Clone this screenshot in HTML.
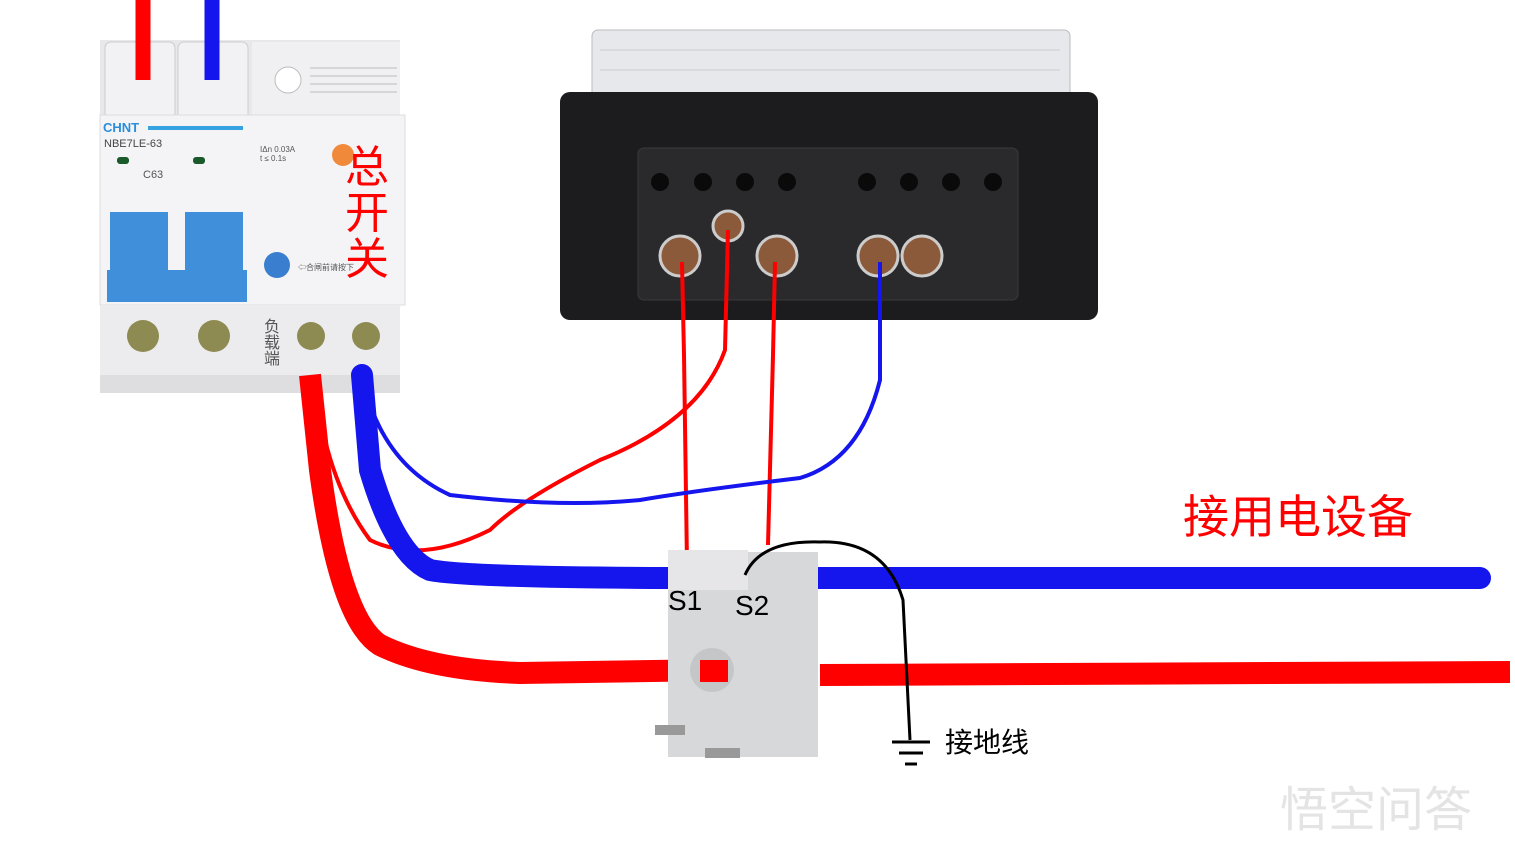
<!DOCTYPE html>
<html><head><meta charset="utf-8"><style>
body{margin:0;background:#fff;}
svg{display:block;}
text{font-family:"Liberation Sans","Noto Sans CJK SC",sans-serif;}
</style></head><body>
<svg width="1515" height="861" viewBox="0 0 1515 861" xmlns="http://www.w3.org/2000/svg">
<rect width="1515" height="861" fill="#fff"/>
<!-- breaker -->
<rect x="100" y="40" width="300" height="350" fill="#e8e8ea"/>
<rect x="105" y="42" width="70" height="80" rx="6" fill="#f2f2f4" stroke="#ccc"/>
<rect x="178" y="42" width="70" height="80" rx="6" fill="#f2f2f4" stroke="#ccc"/>
<rect x="252" y="42" width="148" height="75" fill="#f0f0f2"/>
<circle cx="288" cy="80" r="13" fill="#fff" stroke="#bbb"/>
<g stroke="#bbb"><line x1="310" y1="68" x2="397" y2="68"/><line x1="310" y1="76" x2="397" y2="76"/><line x1="310" y1="84" x2="397" y2="84"/><line x1="310" y1="92" x2="397" y2="92"/></g>
<rect x="100" y="115" width="305" height="190" fill="#f4f4f6" stroke="#ddd"/>
<text x="103" y="132" font-size="13" font-weight="bold" fill="#2a8fd8">CHNT</text>
<rect x="148" y="126" width="95" height="4" fill="#36a3e0"/>
<text x="104" y="147" font-size="11" fill="#444">NBE7LE-63</text>
<rect x="117" y="157" width="12" height="7" rx="3" fill="#1a5a2a"/>
<rect x="193" y="157" width="12" height="7" rx="3" fill="#1a5a2a"/>
<text x="143" y="178" font-size="11" fill="#555">C63</text>
<text x="260" y="152" font-size="8" fill="#555">IΔn 0.03A</text>
<text x="260" y="161" font-size="8" fill="#555">t ≤ 0.1s</text>
<circle cx="343" cy="155" r="11" fill="#f08a3a"/>
<rect x="110" y="212" width="58" height="70" fill="#3f8fdb"/>
<rect x="185" y="212" width="58" height="70" fill="#3f8fdb"/>
<rect x="107" y="270" width="140" height="32" fill="#3f8fdb"/>
<circle cx="277" cy="265" r="13" fill="#3a7ed0"/>
<text x="298" y="270" font-size="8" fill="#555">⇦合闸前请按下</text>
<rect x="100" y="305" width="300" height="70" fill="#ececee"/>
<circle cx="143" cy="336" r="16" fill="#8d8a52"/>
<circle cx="214" cy="336" r="16" fill="#8d8a52"/>
<circle cx="311" cy="336" r="14" fill="#8d8a52"/>
<circle cx="366" cy="336" r="14" fill="#8d8a52"/>
<text x="264" y="332" font-size="16" fill="#555">负</text>
<text x="264" y="348" font-size="16" fill="#555">载</text>
<text x="264" y="364" font-size="16" fill="#555">端</text>
<rect x="100" y="375" width="300" height="18" fill="#dedee0"/>
<!-- top wires -->
<line x1="143" y1="0" x2="143" y2="80" stroke="#f00" stroke-width="15"/>
<line x1="212" y1="0" x2="212" y2="80" stroke="#1515ee" stroke-width="15"/>
<text x="345" y="182" font-size="44" fill="#f00">总</text>
<text x="345" y="228" font-size="44" fill="#f00">开</text>
<text x="345" y="274" font-size="44" fill="#f00">关</text>
<!-- meter -->
<rect x="592" y="30" width="478" height="68" rx="6" fill="#e6e8ec" stroke="#bbb"/>
<g stroke="#ccc"><line x1="600" y1="50" x2="1060" y2="50"/><line x1="600" y1="70" x2="1060" y2="70"/></g>
<rect x="560" y="92" width="538" height="228" rx="10" fill="#1c1c1e"/>
<rect x="638" y="148" width="380" height="152" rx="6" fill="#2a2a2c" stroke="#3a3a3c"/>
<g fill="#0a0a0a">
<circle cx="660" cy="182" r="9"/><circle cx="703" cy="182" r="9"/><circle cx="745" cy="182" r="9"/><circle cx="787" cy="182" r="9"/>
<circle cx="867" cy="182" r="9"/><circle cx="909" cy="182" r="9"/><circle cx="951" cy="182" r="9"/><circle cx="993" cy="182" r="9"/>
</g>
<g fill="#8a5a3a" stroke="#ccc" stroke-width="3">
<circle cx="680" cy="256" r="20"/><circle cx="777" cy="256" r="20"/><circle cx="878" cy="256" r="20"/><circle cx="922" cy="256" r="20"/><circle cx="728" cy="226" r="15"/>
</g>
<!-- thin wires -->
<g fill="none" stroke-width="4" stroke-linejoin="round">
<path d="M682 262 L684 355 L687 565" stroke="#f00"/>
<path d="M728 230 L725 350 Q700 420 600 460 Q520 500 490 530 Q420 565 370 540 Q340 500 325 440" stroke="#f00"/>
<path d="M775 262 L773 355 L768 545" stroke="#f00"/>
<path d="M880 262 L880 380 Q860 460 800 478 Q700 490 640 500 Q560 508 450 495 Q395 470 372 410" stroke="#1515ee"/>
</g>
<!-- thick wires -->
<path d="M362 375 L370 470 Q395 555 430 570 Q470 578 700 578 L1480 578" fill="none" stroke="#1515ee" stroke-width="22" stroke-linecap="round"/>
<path d="M310 375 L320 470 Q340 620 380 645 Q430 670 520 673 L720 670" fill="none" stroke="#f00" stroke-width="22"/>
<path d="M820 675 L1510 672" fill="none" stroke="#f00" stroke-width="22"/>
<!-- CT -->
<rect x="668" y="552" width="150" height="205" fill="#d6d8da"/>
<rect x="668" y="550" width="80" height="40" fill="#e6e6e8"/>
<circle cx="712" cy="670" r="22" fill="#c4c6c8"/>
<rect x="700" y="660" width="28" height="22" fill="#f00"/>
<rect x="655" y="725" width="30" height="10" fill="#999"/>
<rect x="705" y="748" width="35" height="10" fill="#999"/>
<path d="M745 575 Q760 540 820 542 Q885 540 903 600 L910 740" fill="none" stroke="#000" stroke-width="3"/>
<g stroke="#000" stroke-width="3"><line x1="892" y1="742" x2="930" y2="742"/><line x1="899" y1="753" x2="923" y2="753"/><line x1="905" y1="764" x2="917" y2="764"/></g>
<text x="668" y="610" font-size="28" fill="#000">S1</text>
<text x="735" y="615" font-size="28" fill="#000">S2</text>
<text x="945" y="752" font-size="28" fill="#000">接地线</text>
<text x="1183" y="533" font-size="46" fill="#f00">接用电设备</text>
<text x="1280" y="826" font-size="48" fill="#e4e4e4">悟空问答</text>
</svg>
</body></html>
